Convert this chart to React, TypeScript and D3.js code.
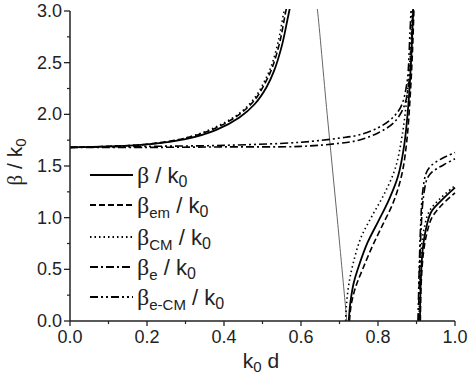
import React from "react";
import * as d3 from "d3";

type P = [number, number];

const xTicks = [0.0, 0.2, 0.4, 0.6, 0.8, 1.0];
const yTicks = [0.0, 0.5, 1.0, 1.5, 2.0, 2.5, 3.0];

// beta / k0 (solid)
const beta1: P[] = [[0,1.68],[0.1,1.69],[0.2,1.71],[0.3,1.76],[0.38,1.85],[0.44,1.97],[0.48,2.1],[0.51,2.26],[0.53,2.42],[0.55,2.66],[0.565,2.92],[0.575,3.1]];
const beta2: P[] = [[0.724,0],[0.726,0.1],[0.729,0.2],[0.737,0.37],[0.75,0.53],[0.773,0.76],[0.8,0.96],[0.828,1.17],[0.852,1.4],[0.868,1.7],[0.879,2.1],[0.887,2.6],[0.892,3.1]];
const beta3: P[] = [[0.909,0],[0.911,0.37],[0.916,0.69],[0.924,0.88],[0.9375,1.05],[0.963,1.16],[1.0,1.29]];
// beta_em (dashed)
const em1: P[] = [[0,1.68],[0.1,1.69],[0.2,1.71],[0.3,1.77],[0.38,1.87],[0.44,2.0],[0.48,2.14],[0.505,2.29],[0.525,2.45],[0.545,2.7],[0.558,2.95],[0.566,3.1]];
const em2: P[] = [[0.726,0],[0.73,0.15],[0.742,0.33],[0.76,0.5],[0.785,0.72],[0.812,0.93],[0.84,1.15],[0.862,1.42],[0.875,1.75],[0.884,2.2],[0.89,2.65],[0.894,3.1]];
const em3: P[] = [[0.91,0],[0.912,0.35],[0.918,0.66],[0.927,0.85],[0.94,1.0],[0.965,1.12],[1.0,1.24]];
// beta_CM (dotted)
const cm1: P[] = [[0,1.68],[0.1,1.69],[0.2,1.71],[0.3,1.77],[0.38,1.88],[0.44,2.01],[0.48,2.16],[0.505,2.32],[0.525,2.49],[0.543,2.74],[0.555,2.98],[0.563,3.1]];
const cm2: P[] = [[0.716,0],[0.718,0.15],[0.724,0.35],[0.735,0.55],[0.755,0.8],[0.785,1.02],[0.815,1.22],[0.845,1.48],[0.863,1.8],[0.876,2.2],[0.885,2.65],[0.889,3.1]];
const cm3: P[] = [[0.907,0],[0.909,0.4],[0.913,0.72],[0.92,0.9],[0.933,1.06],[0.96,1.18],[1.0,1.31]];
// beta_e (dash-dot)
const e1: P[] = [[0,1.68],[0.2,1.68],[0.4,1.685],[0.6,1.69],[0.7,1.72],[0.75,1.75],[0.8,1.82],[0.841,1.92],[0.867,2.07],[0.88,2.3],[0.888,2.79],[0.892,3.1]];
const e2: P[] = [[0.905,0],[0.908,0.5],[0.912,0.9],[0.918,1.2],[0.928,1.38],[0.94,1.44],[0.97,1.51],[1.0,1.57]];
// beta_e-CM (dash-dot-dot)
const ecm1: P[] = [[0,1.68],[0.2,1.69],[0.4,1.7],[0.6,1.73],[0.7,1.77],[0.75,1.8],[0.8,1.87],[0.833,1.95],[0.859,2.07],[0.875,2.3],[0.883,2.79],[0.887,3.1]];
const ecm2: P[] = [[0.904,0],[0.907,0.5],[0.911,0.95],[0.916,1.25],[0.925,1.43],[0.937,1.5],[0.965,1.57],[1.0,1.63]];
// light line (thin grey)
const light: P[] = [[0.641,3.05],[0.643,3.0],[0.668,2.0],[0.694,1.0],[0.719,0]];

const subs = ["", "em", "CM", "e", "e-CM"];
const dashes = ["", "6,3", "1.5,3", "8,3,2,3", "8,3,2,3,2,3"];
const branches: P[][][] = [
  [beta1, beta2, beta3],
  [em1, em2, em3],
  [cm1, cm2, cm3],
  [e1, e2],
  [ecm1, ecm2],
];

const W = 474, H = 382;
const L = 70, R = 455, T = 11, B = 321;

export default function App() {
  const x = d3.scaleLinear().domain([0, 1]).range([L, R]);
  const y = d3.scaleLinear().domain([0, 3]).range([B, T]);
  const line = d3.line<P>().x(d => x(d[0])).y(d => y(d[1])).curve(d3.curveCatmullRom.alpha(0.5));
  const xMinor = d3.range(0.1, 1.0, 0.2);
  const yMinor = d3.range(0.25, 3.0, 0.5);
  const sans = "'Liberation Sans', Arial, sans-serif";
  const serif = "'Liberation Serif', 'Times New Roman', serif";
  const legendY = [175, 205, 237, 267, 297];

  return (
    <svg width={W} height={H} style={{ position: "absolute", left: 0, top: 0, background: "#fff" }}>
      <defs>
        <clipPath id="plot">
          <rect x={L} y={T - 2} width={R - L + 2} height={B - T + 2} />
        </clipPath>
      </defs>
      <g clipPath="url(#plot)">
        <path d={line(light) || ""} fill="none" stroke="#666" strokeWidth={1} />
        {branches.map((bs, i) =>
          bs.map((b, j) => (
            <path key={`${i}-${j}`} d={line(b) || ""} fill="none" stroke="#000"
              strokeWidth={i === 0 ? 1.8 : 1.6} strokeDasharray={dashes[i] || undefined} />
          ))
        )}
      </g>
      {/* axes */}
      <line x1={L} x2={R} y1={B} y2={B} stroke="#222" strokeWidth={1.5} />
      <line x1={L} x2={L} y1={T} y2={B} stroke="#222" strokeWidth={1.5} />
      {xTicks.map(t => (
        <g key={`xt${t}`}>
          <line x1={x(t)} x2={x(t)} y1={B} y2={B + 5} stroke="#222" strokeWidth={1.3} />
          <text x={x(t)} y={343} textAnchor="middle" fontFamily={sans} fontSize={18} fill="#222">{t.toFixed(1)}</text>
        </g>
      ))}
      {xMinor.map(t => (
        <line key={`xm${t}`} x1={x(t)} x2={x(t)} y1={B} y2={B + 3} stroke="#222" strokeWidth={1.2} />
      ))}
      {yTicks.map(t => (
        <g key={`yt${t}`}>
          <line x1={L - 6} x2={L} y1={y(t)} y2={y(t)} stroke="#222" strokeWidth={1.3} />
          <text x={L - 8} y={y(t) + 6} textAnchor="end" fontFamily={sans} fontSize={18} fill="#222">{t.toFixed(1)}</text>
        </g>
      ))}
      {yMinor.map(t => (
        <line key={`ym${t}`} x1={L - 3} x2={L} y1={y(t)} y2={y(t)} stroke="#222" strokeWidth={1.2} />
      ))}
      {/* axis titles */}
      <text transform={`translate(22, ${162}) rotate(-90)`} textAnchor="middle" fontFamily={sans} fontSize={21} fill="#222">
        <tspan fontFamily={serif}>β</tspan><tspan> / k</tspan><tspan fontSize={15} dy={4}>0</tspan>
      </text>
      <text x={261} y={368} textAnchor="middle" fontFamily={sans} fontSize={21} fill="#222">
        <tspan>k</tspan><tspan fontSize={15} dy={4}>0</tspan><tspan dy={-4}> d</tspan>
      </text>
      {/* legend */}
      {subs.map((s, i) => (
        <g key={`lg${i}`}>
          <line x1={90} x2={133} y1={legendY[i]} y2={legendY[i]} stroke="#000" strokeWidth={1.8}
            strokeDasharray={dashes[i] || undefined} />
          <text x={137} y={legendY[i] + 8} fontFamily={sans} fontSize={22} fill="#222">
            <tspan fontFamily={serif} fontSize={24}>β</tspan>
            {s ? <tspan fontSize={15} dy={5}>{s}</tspan> : null}
            <tspan dy={s ? -5 : 0}> / k</tspan>
            <tspan fontSize={16} dy={4}>0</tspan>
          </text>
        </g>
      ))}
    </svg>
  );
}
